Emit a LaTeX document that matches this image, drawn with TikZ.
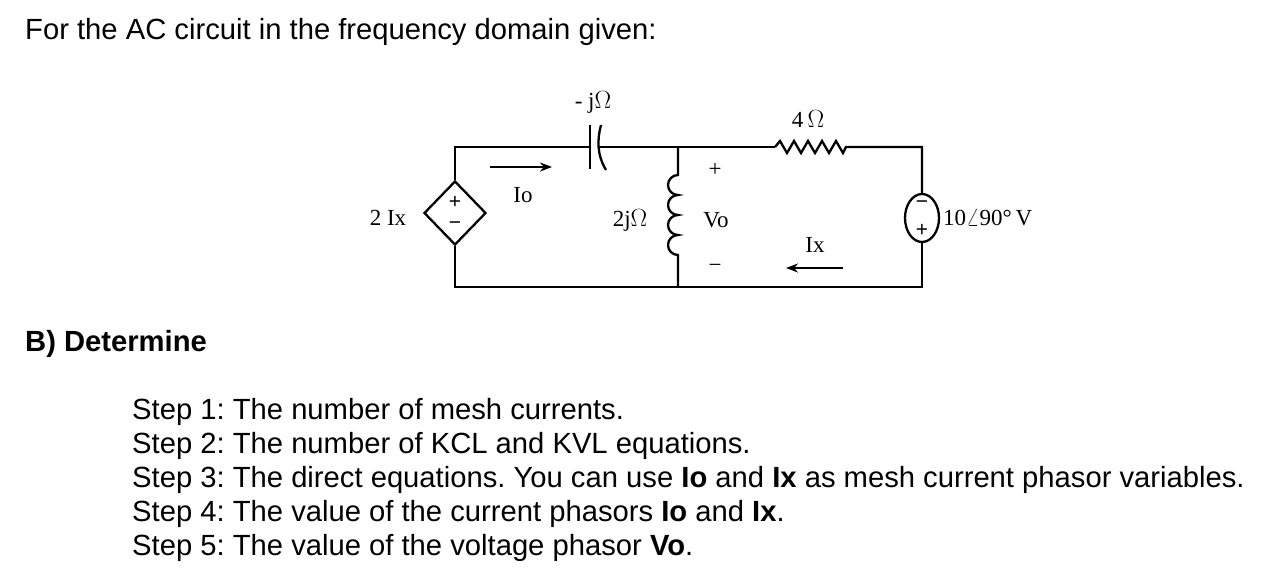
\documentclass[tikz,border=0pt]{standalone}
\usepackage{fontspec}
\setmainfont{Liberation Sans}
\newfontfamily\cser{Liberation Serif}
\usetikzlibrary{arrows.meta,shapes.geometric}
\frenchspacing
\begin{document}
\begin{tikzpicture}[x=1pt,y=-1pt,
  w/.style={line width=2.3pt},
  lbl/.style={font=\cser\fontsize{23}{23}\selectfont,inner sep=0pt},
  sg/.style={font=\fontsize{21}{21}\selectfont,inner sep=0pt},
  txt/.style={font=\fontsize{29.2}{32}\selectfont,inner sep=0pt,anchor=west},
  arr/.style={line width=2pt,-{Stealth[length=12pt,width=9pt]}}]
\useasboundingbox (0,0) rectangle (1263,587);
\node[txt] (title) at (25,32) {For the AC circuit in the frequency domain given:};
\node[txt,font=\bfseries\fontsize{29.2}{32}\selectfont] (b) at (25,344) {B) Determine};
\node[txt] (s1) at (132,412) {Step 1: The number of mesh currents.};
\node[txt] (s2) at (132,446) {Step 2: The number of KCL and KVL equations.};
\node[txt] (s3) at (132,480) {Step 3: The direct equations. You can use \textbf{Io} and \textbf{Ix} as mesh current phasor variables.};
\node[txt] (s4) at (132,514) {Step 4: The value of the current phasors \textbf{Io} and \textbf{Ix}.};
\node[txt] (s5) at (132,548) {Step 5: The value of the voltage phasor \textbf{Vo}.};
% nodes
\coordinate (tl) at (455,147); \coordinate (bl) at (455,287);
\coordinate (tm) at (678,147); \coordinate (bm) at (678,287);
\coordinate (tr) at (922,147); \coordinate (br) at (922,287);
\node[diamond,draw,w,minimum width=62pt,minimum height=64pt,inner sep=0pt] (ds) at (455,213) {};
\node[sg] (dp) at (455,202) {+};
\node[sg] (dm) at (455,226) {\textminus};
\node[ellipse,draw,w,minimum width=34pt,minimum height=48pt,inner sep=0pt] (vs) at (922,218) {};
\node[sg] (vm) at (922,205) {\textminus};
\node[sg] (vp) at (922,230) {+};
% wires
\draw[w] (ds.north) -- (tl) -- (590,147);
\draw[w] (590,125) -- (590,169);
\draw[w] (601,125) .. controls (597,140) and (597,155) .. (606,170);
\draw[w] (598,147) -- (tm) -- (775,147);
\draw[w] (775,147) -- (780,141) -- (787,153) -- (794,141) -- (801,153) -- (808,141) -- (815,153) -- (822,141) -- (829,153) -- (836,141) -- (843,153) -- (846,147) -- (tr) -- (vs.north);
\draw[w] (vs.south) -- (br) -- (bl) -- (ds.south);
\draw[w] (tm) -- (678,175)
  arc[start angle=-90,end angle=-270,radius=10]
  arc[start angle=-90,end angle=-270,radius=10]
  arc[start angle=-90,end angle=-270,radius=10]
  arc[start angle=-90,end angle=-270,radius=10]
  -- (bm);
% arrows
\coordinate (ioa) at (490,167); \coordinate (iob) at (552,167);
\draw[arr] (ioa) -- (iob);
\coordinate (ixa) at (843,268); \coordinate (ixb) at (786,268);
\draw[arr] (ixa) -- (ixb);
% labels
\node[lbl] (lio) at (523,195) {Io};
\node[lbl] (lix) at (815,245) {Ix};
\node[lbl] (lc) at (593,102) {- j$\Omega$};
\node[lbl] (lr) at (808,119) {4$\,\Omega$};
\node[lbl] (ll) at (630,220) {2j$\Omega$};
\node[lbl] (vop) at (715,170) {+};
\node[lbl] (vo) at (716,220) {Vo};
\node[lbl] (vom) at (715,268) {\textminus};
\node[lbl] (ldx) at (388,218) {2 Ix};
\node[lbl,anchor=west] (lvs) at (943,218) {10$\angle$90\textdegree\,V};
\end{tikzpicture}
\end{document}
